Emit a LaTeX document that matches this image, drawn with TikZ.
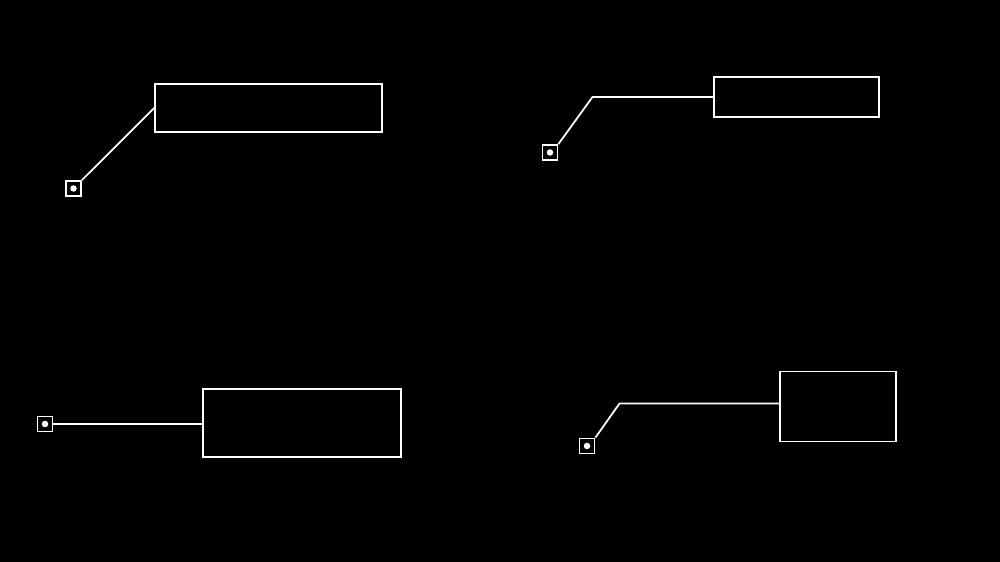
\documentclass[tikz,border=0pt]{standalone}
\usetikzlibrary{calc}
\tikzset{
    labelbox/.style={draw=white, line width=1pt, inner sep=0pt},
    dotbox/.style={draw=white, line width=1pt, inner sep=0pt, minimum size=0.3cm,
        path picture={\fill[white] (path picture bounding box.center) circle (0.065);}},
    lead/.style={white, line width=1pt}
}

\begin{document}
\begin{tikzpicture}
    \fill[black] (0,0) rectangle (20,-11.24);
    \useasboundingbox (0,0) rectangle (20,-11.24);
    % upper left
    \node[labelbox, minimum width=4.54cm, minimum height=0.96cm] (box1) at (5.37,-2.16){};
    \node[dotbox] (dot1) at (1.47,-3.77){};
    \draw[lead] (dot1.north east)--(box1.west);
    % upper right
    \node[labelbox, minimum width=3.3cm, minimum height=0.8cm] (box2) at (15.93,-1.94){};
    \node[dotbox] (dot2) at (11.0,-3.05){};
    \coordinate (bend2) at (11.85,-1.94);
    \draw[lead] (dot2.north east)--(bend2)--(box2.west);
    % lower left
    \node[labelbox, minimum width=3.96cm, minimum height=1.36cm] (box3) at (6.04,-8.46){};
    \node[dotbox] (dot3) at (0.9,-8.48){};
    \draw[lead] (dot3.east)--(dot3.east -| box3.west);
    % lower right
    \node[labelbox, minimum width=2.33cm, minimum height=1.4cm] (box4) at (16.76,-8.13){};
    \node[dotbox] (dot4) at (11.74,-8.92){};
    \coordinate (bend4) at (12.39,-8.07);
    \draw[lead] (dot4.north east)--(bend4)--(bend4 -| box4.west);
\end{tikzpicture}
\end{document}
